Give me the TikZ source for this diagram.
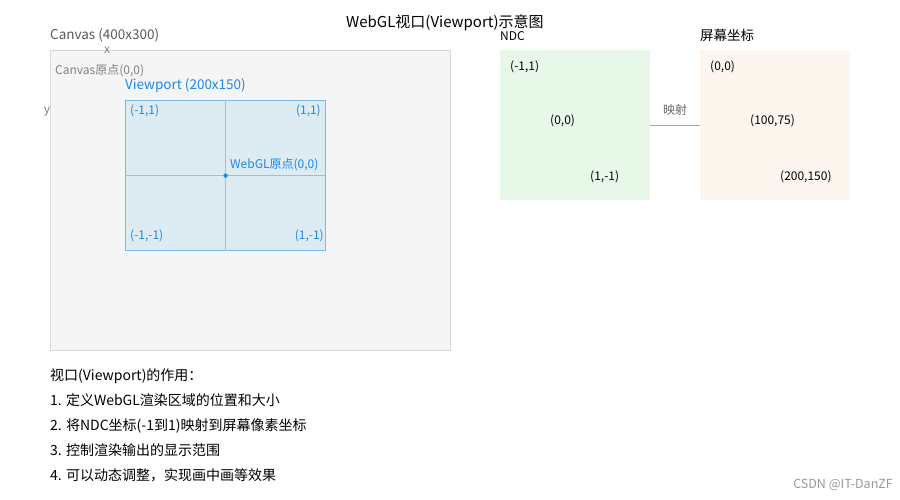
\documentclass[tikz,border=0pt]{standalone}
\usepackage{fontspec}
\setmainfont{Noto Sans CJK SC}
\definecolor{vpblue}{HTML}{1E88E5}
\definecolor{vpfill}{HTML}{DDEBF2}
\definecolor{ndcfill}{HTML}{E8F8E8}
\definecolor{scrfill}{HTML}{FDF6EE}
\definecolor{cgray}{HTML}{F5F5F5}
\begin{document}
\begin{tikzpicture}[x=1pt,y=-1pt,
  lbl/.style={inner sep=0pt,font=\fontsize{12}{13}\selectfont},
  bl/.style={lbl,text=vpblue},
  gl/.style={lbl,text=gray}]
\useasboundingbox (0,0) rectangle (900,500);
\node[draw=black!15,fill=cgray,line width=1pt,minimum width=400pt,minimum height=300pt,anchor=north west] (canvas) at (50,50) {};
\node[draw=vpblue!60,fill=vpfill,line width=1.2pt,minimum width=200pt,minimum height=150pt,anchor=north west] (vp) at (125,100) {};
\draw[vpblue!50,line width=1pt] (vp.north) -- (vp.south);
\draw[vpblue!50,line width=1pt] (vp.west) -- (vp.east);
\fill[vpblue] (vp.center) circle (2.2pt);
\node[font=\fontsize{15}{16}\selectfont,anchor=west,inner sep=0pt] (title) at (346,23) {WebGL视口(Viewport)示意图};
\node[lbl,anchor=west,text=black!65,font=\fontsize{13.5}{15}\selectfont] (ct) at (50,35) {Canvas (400x300)};
\node[gl,anchor=center] (xl) at (107,50) {x};
\node[gl,anchor=center] (yl) at (47,112) {y};
\node[gl,anchor=west] (co) at (55,71) {Canvas原点(0,0)};
\node[bl,anchor=west,font=\fontsize{13.5}{15}\selectfont] (vt) at (125,86) {Viewport (200x150)};
\node[bl,anchor=west] at (130,111) {(-1,1)};
\node[bl,anchor=east] at (321,111) {(1,1)};
\node[bl,anchor=west] at (230,165) {WebGL原点(0,0)};
\node[bl,anchor=west] at (130,236) {(-1,-1)};
\node[bl,anchor=east] at (324,236) {(1,-1)};
\node[fill=ndcfill,minimum width=150pt,minimum height=150pt,anchor=north west] (ndc) at (500,50) {};
\node[fill=scrfill,minimum width=150pt,minimum height=150pt,anchor=north west] (scr) at (700,50) {};
\node[lbl,anchor=west] at (500,36) {NDC};
\node[lbl,anchor=west,font=\fontsize{13.5}{15}\selectfont] at (700,35) {屏幕坐标};
\node[lbl,anchor=west] at (510,67) {(-1,1)};
\node[lbl,anchor=west] at (550,121) {(0,0)};
\node[lbl,anchor=west] at (590,177) {(1,-1)};
\node[lbl,anchor=west] at (710,67) {(0,0)};
\node[lbl,anchor=west] at (750,121) {(100,75)};
\node[lbl,anchor=west] at (780,177) {(200,150)};
\draw[gray!70,line width=1.2pt] (ndc.east) -- node[gl,above=9pt,text=black!60] {映射} (scr.west);
\node[lbl,anchor=west,align=left,font=\fontsize{14}{25}\selectfont] (notes) at (50,425) {视口(Viewport)的作用：\\1. 定义WebGL渲染区域的位置和大小\\2. 将NDC坐标(-1到1)映射到屏幕像素坐标\\3. 控制渲染输出的显示范围\\4. 可以动态调整，实现画中画等效果};
\node[lbl,anchor=east,text=gray!80,font=\fontsize{12.5}{14}\selectfont] at (893,485) {CSDN @IT-DanZF};
\end{tikzpicture}
\end{document}
